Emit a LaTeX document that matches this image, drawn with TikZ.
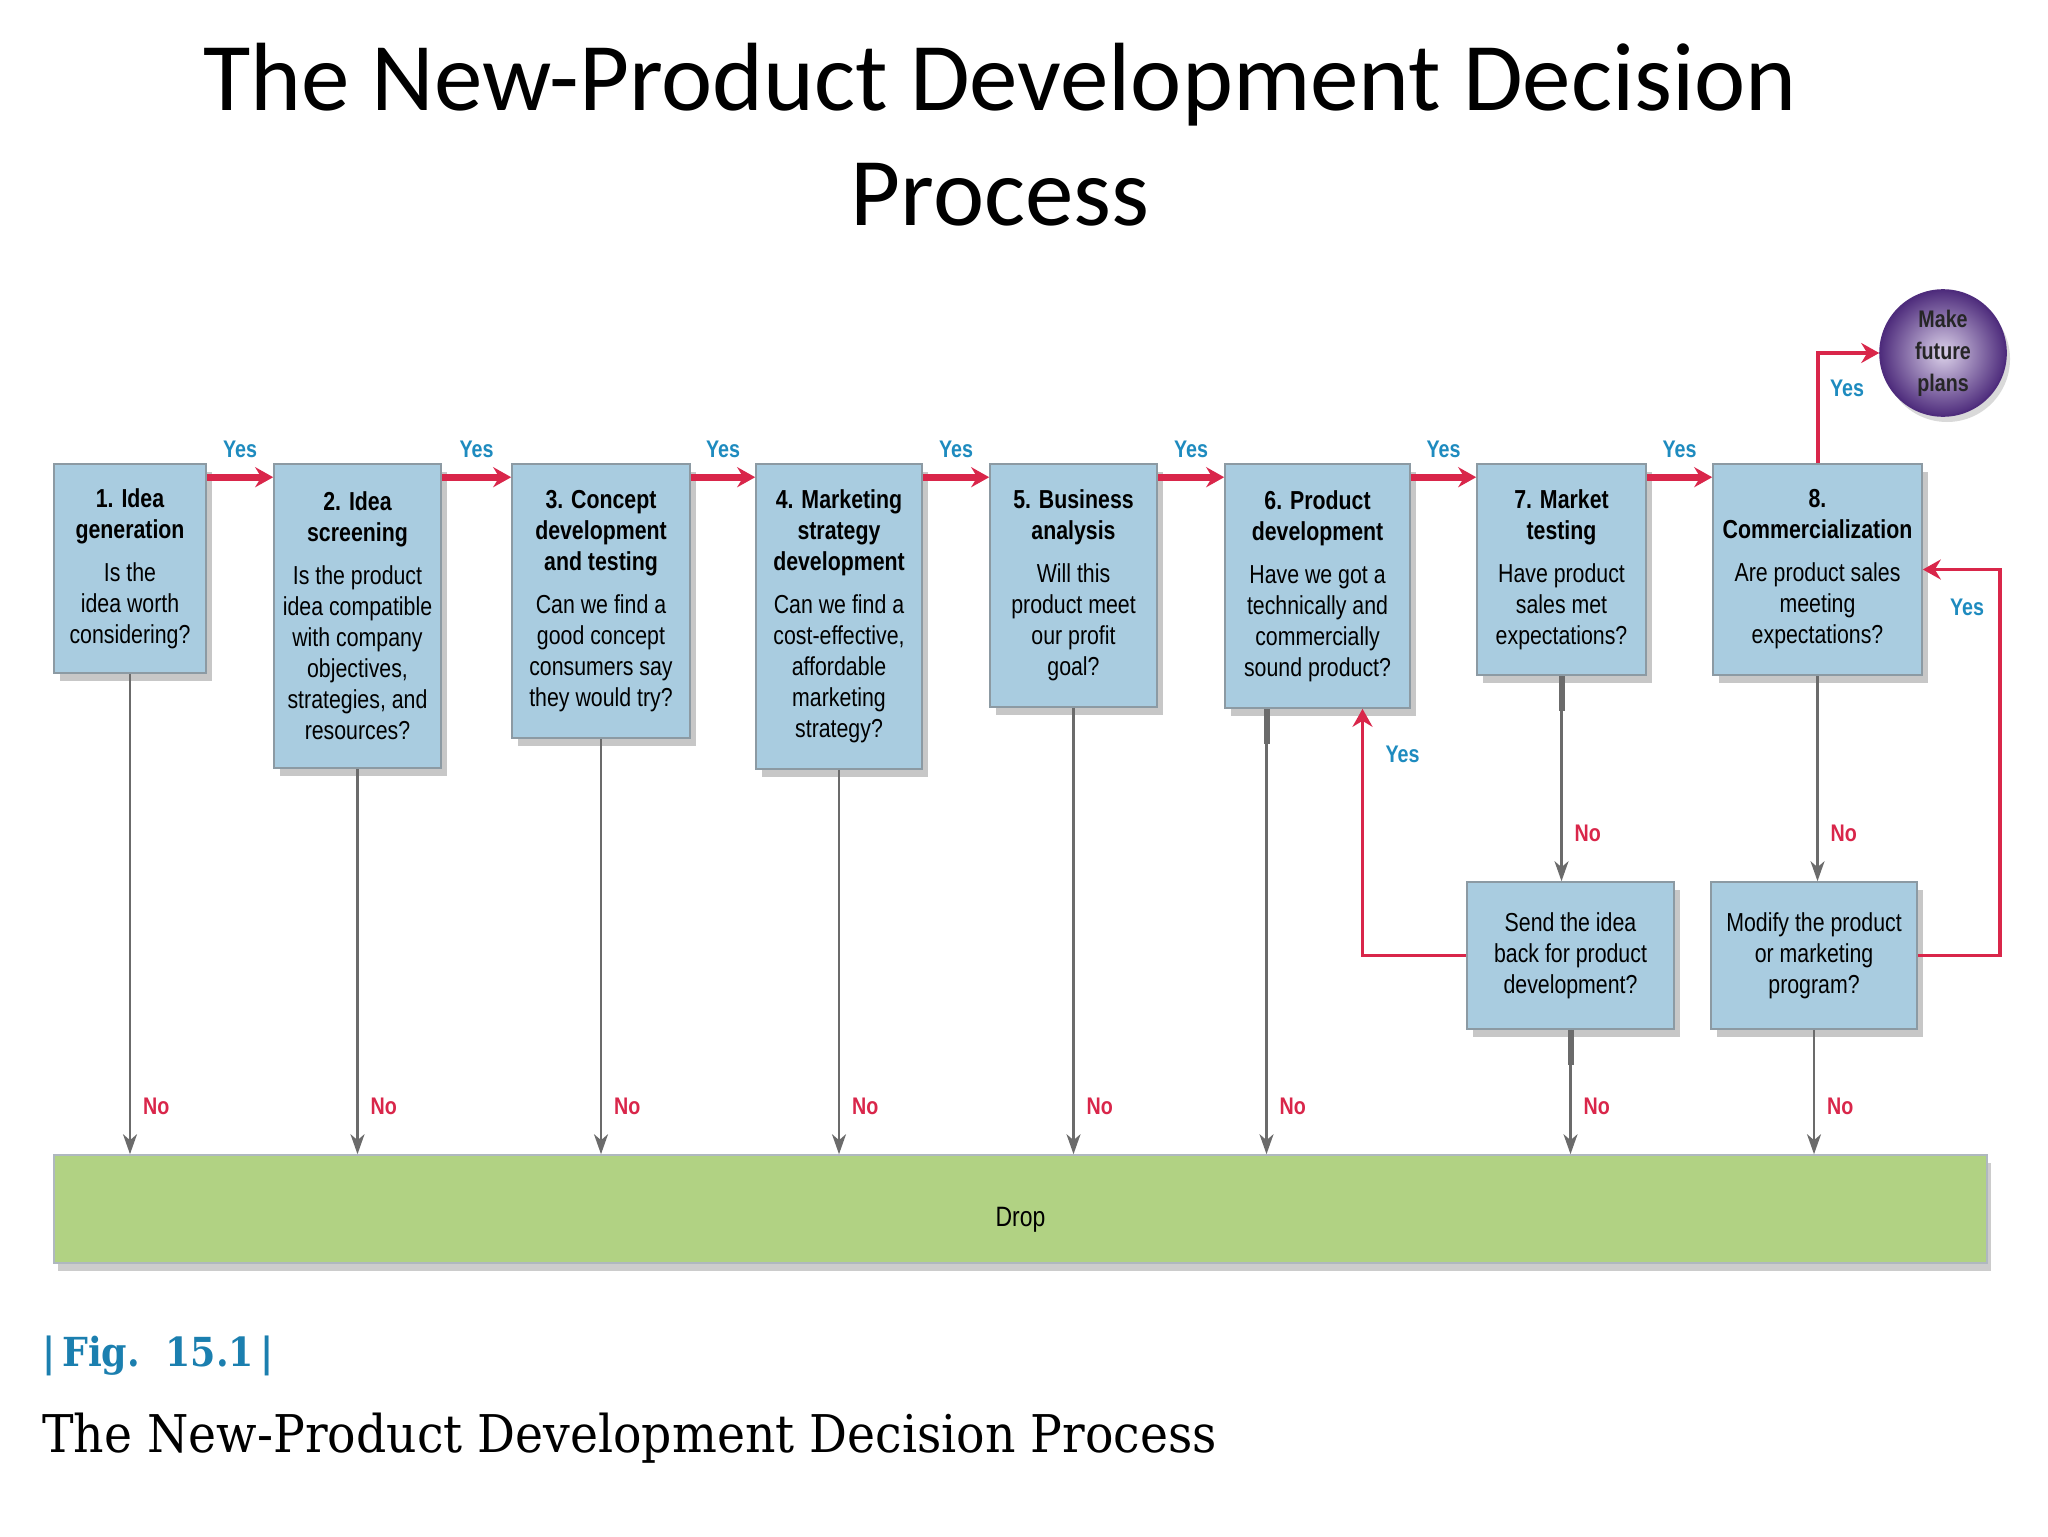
\documentclass[tikz,border=0pt]{standalone}
\usepackage{fontspec}
\usetikzlibrary{arrows.meta,calc,shadows}
\newfontfamily\condfont[FakeStretch=0.82]{Liberation Sans}
\newfontfamily\titlefont{Carlito}
\newfontfamily\capfont[FakeStretch=0.91]{DejaVu Serif}
\definecolor{boxfill}{HTML}{A9CCE0}
\definecolor{boxline}{HTML}{8C9AA3}
\definecolor{yesred}{HTML}{D9264A}
\definecolor{yesblue}{HTML}{1E8BBF}
\definecolor{dropgreen}{HTML}{B1D283}
\definecolor{nogray}{HTML}{6B6B6B}
\definecolor{plansout}{HTML}{4E2C7C}
\definecolor{plansin}{HTML}{DCD2EA}
\definecolor{figblue}{HTML}{1B7FAF}

\begin{document}
\begin{tikzpicture}[x=0.5pt, y=-0.5pt,
  stage/.style={draw=boxline, line width=0.8pt, fill=boxfill, align=center,
    inner sep=2pt, font=\condfont\fontsize{13}{15.5}\selectfont,
    drop shadow={shadow xshift=3pt, shadow yshift=-4pt, fill=black, opacity=0.22}},
  yesarrow/.style={->, draw=yesred, line width=3.5pt},
  backarrow/.style={->, draw=yesred, line width=1.6pt},
  noarrow/.style={->, draw=nogray, line width=1.2pt,
    >={Stealth[length=10pt, width=7pt, inset=3pt]}},
  stub/.style={draw=nogray, line width=3pt},
  yeslabel/.style={text=yesblue, inner sep=0pt,
    font=\condfont\bfseries\fontsize{12}{14}\selectfont},
  nolabel/.style={text=yesred, inner sep=0pt, anchor=south west,
    xshift=6pt, yshift=19pt, font=\condfont\bfseries\fontsize{12}{14}\selectfont},
  >={Stealth[length=9pt, width=10pt, inset=3pt]}]
  \fill[white] (0,0) rectangle (2048,1536);
  \useasboundingbox (0,0) rectangle (2048,1536);

  \node[font=\titlefont\fontsize{48.5}{57.5}\selectfont, align=center] (title)
    at (1000,135) {The New-Product Development Decision\\Process};

  % the eight stages
  \node[stage, minimum width=76pt, minimum height=104.5pt] (b1) at (130,568.5)
    {\bfseries 1. Idea\\\bfseries generation\\[6pt]Is the\\idea worth\\considering?};
  \node[stage, minimum width=83.5pt, minimum height=152pt] (b2) at (357.5,616)
    {\bfseries 2. Idea\\\bfseries screening\\[6pt]Is the product\\idea compatible\\with company\\objectives,\\strategies, and\\resources?};
  \node[stage, minimum width=89pt, minimum height=137pt] (b3) at (601,601)
    {\bfseries 3. Concept\\\bfseries development\\\bfseries and testing\\[6pt]Can we find a\\good concept\\consumers say\\they would try?};
  \node[stage, minimum width=83pt, minimum height=152.5pt] (b4) at (839,616.5)
    {\bfseries 4. Marketing\\\bfseries strategy\\\bfseries development\\[6pt]Can we find a\\cost-effective,\\affordable\\marketing\\strategy?};
  \node[stage, minimum width=83.5pt, minimum height=121.5pt] (b5) at (1073.5,585.5)
    {\bfseries 5. Business\\\bfseries analysis\\[6pt]Will this\\product meet\\our profit\\goal?};
  \node[stage, minimum width=92.5pt, minimum height=122pt] (b6) at (1317.5,586)
    {\bfseries 6. Product\\\bfseries development\\[6pt]Have we got a\\technically and\\commercially\\sound product?};
  \node[stage, minimum width=84.5pt, minimum height=105.5pt] (b7) at (1561.5,569.5)
    {\bfseries 7. Market\\\bfseries testing\\[6pt]Have product\\sales met\\expectations?};
  \node[stage, minimum width=104.5pt, minimum height=105.5pt] (b8) at (1817.5,569.5)
    {\bfseries 8.\\\bfseries Commercialization\\[6pt]Are product sales\\meeting\\expectations?};

  \node[stage, minimum width=103.5pt, minimum height=73.5pt] (send) at (1570.5,955.5)
    {Send the idea\\back for product\\development?};
  \node[stage, minimum width=103pt, minimum height=73.5pt] (mod) at (1814,955.5)
    {Modify the product\\or marketing\\program?};

  \node[draw=boxline!70, line width=0.8pt, fill=dropgreen, minimum width=966.5pt,
    minimum height=54pt, text height=20pt, text depth=3pt,
    font=\condfont\fontsize{14}{16}\selectfont,
    drop shadow={shadow xshift=2pt, shadow yshift=-4pt, fill=black, opacity=0.2}]
    (drop) at (1020.5,1209) {Drop};

  \node[circle, minimum size=63pt, draw=plansout, line width=0.8pt,
    inner color=plansin, outer color=plansout, align=center, text=black!85,
    font=\condfont\bfseries\fontsize{12}{16}\selectfont,
    drop shadow={shadow xshift=2pt, shadow yshift=-3pt, fill=black, opacity=0.15}]
    (plans) at (1943,353) {Make\\future\\plans};

  % yes: on to the next stage
  \foreach \a/\b in {b1/b2,b2/b3,b3/b4,b4/b5,b5/b6,b6/b7,b7/b8}
    \draw[yesarrow] ($(\a.north east)+(0,14)$) -- ($(\b.north west)+(0,14)$)
      node[yeslabel, midway, above=8pt] (yes\a) {Yes};

  % no: drop the idea
  \coordinate (d6) at ($(b6.south)+(-51,0)$);
  \draw[stub] (d6) -- ++(0,35);
  \draw[stub] (b7.south) -- ++(0,35);
  \draw[stub] (send.south) -- ++(0,35);
  \foreach \a in {b1,b2,b3,b4,b5,send,mod}
    \draw[noarrow] (\a.south) -- (\a.south |- drop.north)
      node[nolabel] (no\a) {No};
  \draw[noarrow] (d6) -- (d6 |- drop.north) node[nolabel] (nob6) {No};
  \draw[noarrow] (b7.south) -- (b7.south |- send.north) node[nolabel] (nob7) {No};
  \draw[noarrow] (b8.south) -- (b8.south |- mod.north) node[nolabel] (nob8) {No};

  % loops back
  \coordinate (r6) at ($(b6.south)+(45,0)$);
  \draw[backarrow] (send.west) -| (r6);
  \node[yeslabel] (yesr6) at ($(r6)+(40,46)$) {Yes};
  \coordinate (r8) at (2000,569.5);
  \draw[backarrow] (mod.east) -| (r8) -- (b8.east);
  \node[yeslabel] (yesr8) at (1967,607) {Yes};
  \draw[backarrow, line width=2pt] (b8.north) |- (plans.west);
  \node[yeslabel] (yesp) at (1847,388) {Yes};

  % caption
  \node[anchor=west, inner sep=0pt, text=figblue,
    font=\capfont\bfseries\fontsize{20}{24}\selectfont] (fig) at (42,1356)
    {|\,Fig.\ \ 15.1\,|};
  \node[anchor=west, inner sep=0pt, font=\capfont\fontsize{26}{30}\selectfont]
    (figtitle) at (42,1438) {The New-Product Development Decision Process};
\end{tikzpicture}
\end{document}
